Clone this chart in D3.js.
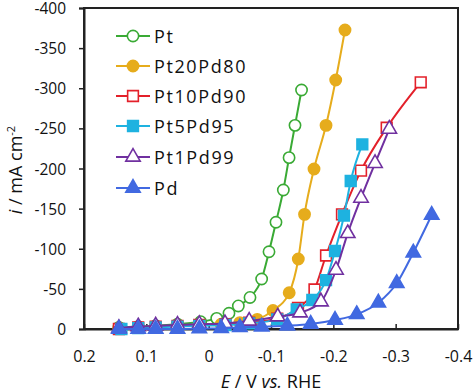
<!DOCTYPE html>
<html><head><meta charset="utf-8">
<script src="https://cdn.jsdelivr.net/npm/d3@7"></script>
<style>
html,body{margin:0;padding:0;background:#fff;}
svg text{font-family:"Open Sans",sans-serif;fill:#111;}
</style></head>
<body><svg id="c" width="474" height="392"></svg>
<script>
const seriesNames = ["Pt","Pt20Pd80","Pt10Pd90","Pt5Pd95","Pt1Pd99","Pd"];
const ePt = [0.144,0.113,0.085,0.05,0.0128,-0.0129,-0.0326,-0.0476,-0.0663,-0.085,-0.0968,-0.108,-0.1198,-0.129,-0.1385,-0.149];
const iPt = [-2,-3,-4,-6,-9.1,-13.3,-19.6,-28.7,-39.3,-62.3,-96.3,-133,-173.2,-213.5,-253.8,-297.8];
const ePt20 = [0.144,0.113,0.085,0.05,0.015,-0.02,-0.05,-0.078,-0.1032,-0.1292,-0.1438,-0.1538,-0.169,-0.1883,-0.2038,-0.2187];
const iPt20 = [-1,-2,-3,-4,-5,-6,-8,-12,-23,-45.1,-87.2,-142.9,-199.4,-253.8,-310.3,-372.6];
const ePt10 = [0.144,0.113,0.085,0.05,0.015,-0.027,-0.065,-0.11,-0.1433,-0.1698,-0.1883,-0.2139,-0.2444,-0.2856,-0.3402];
const iPt10 = [0,-2,-3,-4,-5,-6,-8,-13,-26.2,-49.2,-91.6,-142.9,-197.3,-250.8,-307.4];
const ePt5 = [0.14,0.113,0.085,0.05,0.015,-0.027,-0.065,-0.11,-0.1413,-0.1663,-0.1883,-0.2027,-0.2171,-0.2279,-0.2465];
const iPt5 = [0,-1,-2,-3,-4,-5,-7,-12,-24.5,-36.1,-61,-97.2,-141.2,-184.4,-230.1];
const ePt1 = [0.144,0.113,0.085,0.05,0.015,-0.0262,-0.065,-0.1108,-0.1466,-0.1802,-0.2043,-0.2231,-0.2444,-0.2669,-0.2898];
const iPt1 = [-1,-3,-4,-5,-6,-7,-10,-15.3,-20.3,-34,-73.5,-119.2,-163.2,-206.5,-249.2];
const ePd = [0.144,0.113,0.085,0.05,0.015,-0.02,-0.05,-0.0851,-0.1262,-0.1637,-0.2027,-0.2375,-0.2722,-0.3017,-0.3283,-0.3578];
const iPd = [0,0,0,0,-0.5,-1,-2,-2.9,-4.1,-6.2,-11.2,-18.3,-32.8,-57,-95.1,-142];
const xTicks = [0.2,0.1,0,-0.1,-0.2,-0.3,-0.4];
const xTickLabels = ["0.2","0.1","0","-0.1","-0.2","-0.3","-0.4"];
const yTicks = [0,-50,-100,-150,-200,-250,-300,-350,-400];
const yTickLabels = ["0","-50","-100","-150","-200","-250","-300","-350","-400"];

const colors = ["#3aaa35","#e6ac1c","#e3202a","#1eb2e0","#7030a0","#4169e1"];
const shapes = ["circle","circle","square","square","triangle","triangle"];
const filled = [false,true,false,true,false,true];
const Es = [ePt,ePt20,ePt10,ePt5,ePt1,ePd];
const Is = [iPt,iPt20,iPt10,iPt5,iPt1,iPd];

const svg = d3.select("#c");
const L=84,R=458,T=8,B=329;
const x = d3.scaleLinear().domain([0.2,-0.4]).range([L,R]);
const y = d3.scaleLinear().domain([0,-400]).range([B,T]);

function symPath(shape){
  if(shape==="circle") return d3.symbol(d3.symbolCircle, 100)();
  if(shape==="square") return d3.symbol(d3.symbolSquare, 115)();
  return d3.symbol(d3.symbolTriangle, 90)();
}

// frame
svg.append("rect").attr("x",L).attr("y",T).attr("width",R-L).attr("height",B-T)
  .attr("fill","none").attr("stroke","#222").attr("stroke-width",2);

// y axis
const ya = d3.axisLeft(y).tickValues(yTicks).tickSize(5).tickPadding(13)
  .tickFormat((d,i)=>yTickLabels[i]);
const gy = svg.append("g").attr("transform",`translate(${L},0)`).call(ya);
gy.select(".domain").attr("stroke","#222").attr("stroke-width",2);
gy.selectAll(".tick line").attr("stroke","#222").attr("stroke-width",1.5);
gy.selectAll("text").style("font-size","15.5px").attr("fill","#111").attr("dy","0.36em");

// x axis (ticks inward)
const xa = d3.axisBottom(x).tickValues(xTicks).tickSizeInner(-5).tickSizeOuter(0).tickPadding(22)
  .tickFormat((d,i)=>xTickLabels[i]);
const gx = svg.append("g").attr("transform",`translate(0,${B})`).call(xa);
gx.select(".domain").attr("stroke","#222").attr("stroke-width",2);
gx.selectAll(".tick line").attr("stroke","#222").attr("stroke-width",1.5);
gx.selectAll("text").style("font-size","16px").attr("fill","#111");

// series
const line = d3.line().curve(d3.curveMonotoneX).x(d=>x(d[0])).y(d=>y(d[1]));
seriesNames.forEach((name,k)=>{
  const pts = Es[k].map((e,j)=>[e,Is[k][j]]);
  const g = svg.append("g");
  g.append("path").datum(pts).attr("d",line).attr("fill","none")
    .attr("stroke",colors[k]).attr("stroke-width",2);
  g.selectAll("path.m").data(pts).enter().append("path").attr("class","m")
    .attr("d",symPath(shapes[k]))
    .attr("transform",d=>`translate(${x(d[0])},${y(d[1])})`)
    .attr("fill",filled[k]?colors[k]:"#fff")
    .attr("stroke",colors[k]).attr("stroke-width",1.6);
});

// legend
const rows = [36,66,96,126,157,188];
seriesNames.forEach((name,k)=>{
  const g = svg.append("g").attr("transform",`translate(0,${rows[k]})`);
  g.append("line").attr("x1",116).attr("x2",150).attr("y1",0).attr("y2",0)
    .attr("stroke",colors[k]).attr("stroke-width",2);
  g.append("path").attr("d",symPath(shapes[k])).attr("transform","translate(133,0)")
    .attr("fill",filled[k]?colors[k]:"#fff").attr("stroke",colors[k]).attr("stroke-width",1.6);
  g.append("text").attr("x",154).attr("y",6.5).style("font-size","18px")
    .style("letter-spacing","1.6px").text(name);
});

// axis titles
const yt = svg.append("text").attr("transform","translate(22,170) rotate(-90)")
  .attr("text-anchor","middle").style("font-size","18px");
yt.append("tspan").style("font-style","italic").text("i");
yt.append("tspan").text(" / mA cm");
yt.append("tspan").attr("dy",-7).style("font-size","11px").text("-2");

const xt = svg.append("text").attr("x",271).attr("y",388).attr("text-anchor","middle").style("font-size","18px");
xt.append("tspan").style("font-style","italic").text("E");
xt.append("tspan").text(" / V ");
xt.append("tspan").style("font-style","italic").text("vs.");
xt.append("tspan").text(" RHE");
</script></body></html>
